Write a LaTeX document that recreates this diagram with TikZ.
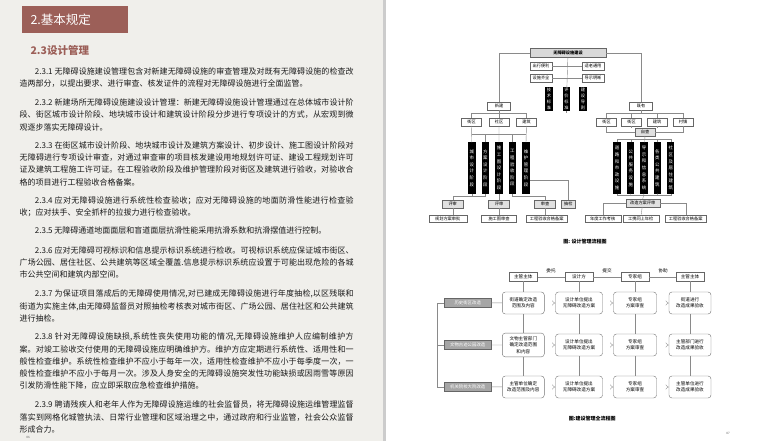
\documentclass[tikz,border=0pt]{standalone}
\usepackage{fontspec}
\setmainfont{Noto Sans CJK SC}
\XeTeXlinebreaklocale "zh"
\XeTeXlinebreakskip=0pt plus 1pt
\usetikzlibrary{arrows.meta,positioning}
\definecolor{pagebg}{HTML}{F0EFEB}
\definecolor{headred}{HTML}{9C5F58}
\definecolor{linegray}{HTML}{8A8A8A}
\newcommand{\bodyfont}{\fontsize{8}{12.2}\selectfont}
\newcommand{\tinyfont}{\fontsize{4.2}{5}\selectfont}
\tikzset{
  para/.style={anchor=north west, text width=334pt, inner sep=0pt, align=justify, font=\bodyfont, text=black!90},
  gbox/.style={draw=black!60, fill=white, line width=0.4pt, inner sep=0.5pt, minimum height=7.5pt, font=\tinyfont, align=center},
  titlebox/.style={gbox, fill=black!15, minimum width=76pt, minimum height=9pt, font=\tinyfont\bfseries},
  bbox/.style={fill=black, text=white, inner sep=0pt, minimum width=7.5pt, align=center},
  cell/.style={draw=black!55, rounded corners=3pt, fill=white, line width=0.4pt, minimum height=22pt, align=center, font=\fontsize{4.6}{6.4}\selectfont},
  rowlab/.style={draw=black!60, fill=black!35, text=white, minimum width=47pt, minimum height=9pt, inner sep=0pt, font=\fontsize{4.4}{5}\selectfont},
  link/.style={draw=linegray, line width=0.4pt},
  flow/.style={draw=black!45, double=white, double distance=1.3pt, line width=0.35pt, -{Implies}},
  caption/.style={font=\fontsize{5}{6}\selectfont\bfseries}
}
\begin{document}
\begin{tikzpicture}[x=1pt,y=-1pt]
\useasboundingbox (0,0) rectangle (760,441);
% pages
\fill[pagebg] (0,0) rectangle (383,441);
\fill[black!20] (383,0) rectangle (386,441);
% left page heading
\node[fill=headred, minimum width=106pt, minimum height=27pt, anchor=north west, inner sep=0pt] (head) at (22,6) {};
\node[anchor=west, text=white, font=\fontsize{12.5}{14}\selectfont] (headtxt) at (27,19.5) {2.基本规定};
\node[anchor=west, text=headred, font=\fontsize{10.5}{12}\selectfont\bfseries] (sub) at (27,50) {2.3设计管理};
% paragraphs
\node[para] (p1) at (19.5,67.5) {\hspace*{1.9em}2.3.1\ 无障碍设施建设管理包含对新建无障碍设施的审查管理及对既有无障碍设施的检查改造两部分，以提出要求、进行审查、核发证件的流程对无障碍设施进行全面监管。};
\node[para] (p2) at (19.5,98.8) {\hspace*{1.9em}2.3.2\ 新建场所无障碍设施建设设计管理：新建无障碍设施设计管理通过在总体城市设计阶段、街区城市设计阶段、地块城市设计和建筑设计阶段分步进行专项设计的方式，从宏观到微观逐步落实无障碍设计。};
\node[para] (p3) at (19.5,141.5) {\hspace*{1.9em}2.3.3\ 在街区城市设计阶段、地块城市设计及建筑方案设计、初步设计、施工图设计阶段对无障碍进行专项设计审查，对通过审查审的项目核发建设用地规划许可证、建设工程规划许可证及建筑工程施工许可证。在工程验收阶段及维护管理阶段对街区及建筑进行验收，对验收合格的项目进行工程验收合格备案。};
\node[para] (p4) at (19.5,196.5) {\hspace*{1.9em}2.3.4\ 应对无障碍设施进行系统性检查验收；应对无障碍设施的地面防滑性能进行检查验收；应对扶手、安全抓杆的拉拔力进行检查验收。};
\node[para] (p5) at (19.5,226.5) {\hspace*{1.9em}2.3.5\ 无障碍通道地面面层和盲道面层抗滑性能采用抗滑系数和抗滑摆值进行控制。};
\node[para] (p6) at (19.5,246.5) {\hspace*{1.9em}2.3.6\ 应对无障碍可视标识和信息提示标识系统进行检收。可视标识系统应保证城市街区、广场公园、居住社区、公共建筑等区域全覆盖.信息提示标识系统应设置于可能出现危险的各城市公共空间和建筑内部空间。};
\node[para] (p7) at (19.5,290) {\hspace*{1.9em}2.3.7\ 为保证项目落成后的无障碍使用情况,对已建成无障碍设施进行年度抽检,以区残联和街道为实施主体,由无障碍监督员对照抽检考核表对城市街区、广场公园、居住社区和公共建筑进行抽检。};
\node[para] (p8) at (19.5,333) {\hspace*{1.9em}2.3.8\ 针对无障碍设施缺损,系统性丧失使用功能的情况,无障碍设施维护人应编制维护方案。对竣工验收交付使用的无障碍设施应明确维护方。维护方应定期进行系统性、适用性和一般性检查维护。系统性检查维护不应小于每年一次，适用性检查维护不应小于每季度一次，一般性检查维护不应小于每月一次。涉及人身安全的无障碍设施突发性功能缺损或因雨雪等原因引发防滑性能下降，应立即采取应急检查维护措施。};
\node[para] (p9) at (19.5,401) {\hspace*{1.9em}2.3.9\ 聘请残疾人和老年人作为无障碍设施运维的社会监督员，将无障碍设施运维管理监督落实到网格化城管执法、日常行业管理和区域治理之中，通过政府和行业监管，社会公众监督形成合力。};
\node[font=\fontsize{3}{3}\selectfont, text=black!60] (pg86) at (28,437) {86};
\node[font=\fontsize{3}{3}\selectfont, text=black!60] (pg87) at (728,433) {87};

% ---- design management chart
\node[titlebox] (top) at (568,53) {无障碍设施建设};
\node[gbox, minimum width=22pt] (g1) at (541,66) {出行便利};
\node[gbox, minimum width=22pt] (g2) at (593,66) {适老通用};
\node[gbox, minimum width=22pt] (g3) at (541,78) {设施齐全};
\node[gbox, minimum width=22pt] (g4) at (593,78) {导示明晰};
\node[bbox, minimum height=24pt, font=\fontsize{4.2}{5.8}\selectfont] (s1) at (549,99) {技\\术\\标\\准};
\node[bbox, minimum height=24pt, font=\fontsize{4.2}{5.8}\selectfont] (s2) at (566.5,99) {评\\价\\标\\准};
\node[bbox, minimum height=24pt, font=\fontsize{4.2}{5.8}\selectfont] (s3) at (583,99) {建\\设\\导\\则};
\node[gbox, minimum width=23pt] (new) at (499,106) {新建};
\node[gbox, minimum width=23pt] (old) at (641,106) {既有};
\node[gbox, minimum width=20pt] (n1) at (471.5,122) {街区};
\node[gbox, minimum width=20pt] (n2) at (499,122) {社区};
\node[gbox, minimum width=20pt] (n3) at (526.5,122) {建筑};
\node[gbox, minimum width=20pt] (o1) at (606.5,122) {街区};
\node[gbox, minimum width=20pt] (o2) at (631.5,122) {街区};
\node[gbox, minimum width=20pt] (o3) at (657,122) {建筑};
\node[gbox, minimum width=20pt] (o4) at (683,122) {村镇};
\node[gbox, fill=black!12, minimum width=20pt] (self) at (645,132) {自查};
\foreach \n/\x/\t in {d1/471.8/城\\市\\设\\计\\阶\\段, d2/485.3/方\\案\\设\\计\\阶\\段, d3/499/施\\工\\图\\设\\计\\阶\\段, d4/512.3/工\\程\\验\\收\\阶\\段, d5/526/维\\护\\管\\理\\阶\\段}
  \node[bbox, minimum height=51pt, font=\fontsize{4.4}{6.6}\selectfont] (\n) at (\x,168) {\t};
\foreach \n/\x/\t in {r1/617/道\\路\\和\\市\\政\\设\\施, r2/630.7/公\\共\\服\\务\\设\\施, r3/644/导\\示\\和\\信\\息\\系\\统, r4/657.3/各\\类\\公\\共\\建\\筑, r5/670.7/社\\区\\及\\居\\住\\建\\筑}
  \node[bbox, minimum height=51pt, font=\fontsize{4.4}{6.6}\selectfont] (\n) at (\x,168) {\t};
\node[gbox, fill=black!12, minimum width=21pt] (e1) at (452.7,204) {评审};
\node[gbox, fill=black!12, minimum width=21pt] (e2) at (499,204) {评审};
\node[gbox, fill=black!12, minimum width=21pt] (e3) at (545,204) {审查};
\node[gbox, fill=black!12, minimum width=14pt] (e4) at (568.3,204) {抽检};
\node[gbox, minimum width=38pt] (f1) at (447.7,218.5) {规划方案审批};
\node[gbox, minimum width=35pt] (f2) at (499,218.5) {施工图审查};
\node[gbox, minimum width=41pt] (f3) at (546.7,218.5) {工程验收合格备案};
\node[gbox, fill=black!12, minimum width=34pt] (rev) at (642.7,203) {改造方案评审};
\node[gbox, minimum width=36pt] (h1) at (602.7,218.5) {年度工作考核};
\node[gbox, minimum width=36pt] (h2) at (640.7,218.5) {工携同上年检};
\node[gbox, minimum width=41pt] (h3) at (685.7,218.5) {工程验收合格备案};
\node[caption] (cap1) at (585,241.7) {图: 设计管理流程图};
% connectors
\begin{scope}[on background layer/.try]
\draw[link] (top) -- (s2);
\draw[link] (g1) -- (g2) (g3) -- (g4);
\draw[link] (top.west) -| (new.north);
\draw[link] (top.east) -| (old.north);
\draw[link] (new) -- (n2);
\draw[link] (n1.north) |- (n3.north |- 0,113) -- (n3.north);
\draw[link] (s2) -- (s2 |- 0,113);
\draw[link] (old) -- (old |- 0,113);
\draw[link] (o1.north) |- (o4.north |- 0,113) -- (o4.north);
\draw[link] (o2.north) -- (o2.north |- 0,113) (o3.north) -- (o3.north |- 0,113);
\draw[link] (o1.south) |- (self.west) (o4.south) |- (self.east);
\draw[link] (o2.south) -- (o2.south |- self.north) (o3.south) -- (o3.south |- self.north);
\draw[link] (n1.south) -- (d1.north) (n2.south) -- (d3.north) (n3.south) -- (d5.north);
\draw[link] (d1.north |- 0,134) -- (d5.north |- 0,134);
\draw[link] (d2.north) -- (d2.north |- 0,134) (d4.north) -- (d4.north |- 0,134);
\draw[link] (self) -- (r3);
\draw[link] (r1.north) |- (r5.north |- 0,139.3) -- (r5.north);
\draw[link] (r2.north) -- (r2.north |- 0,139.3) (r4.north) -- (r4.north |- 0,139.3);
\draw[link] (d2.south) |- (e1.north |- 0,196) -- (e1.north);
\draw[link] (d1.south) -- (d1.south |- 0,196);
\draw[link] (d3) -- (e2);
\draw[link] (d4.south) |- (e3.north |- 0,196) -- (e3.north);
\draw[link] (d5.east) ++(0,12) -| (e4.north);
\draw[link] (e1) -- (e1 |- f1.north) (e2) -- (f2) (e3) -- (e3 |- f3.north);
\draw[link] (r1.south) |- (r5.south |- 0,195) -- (r5.south);
\draw[link] (r2.south) -- (r2.south |- 0,195) (r3.south) -- (rev.north) (r4.south) -- (r4.south |- 0,195);
\draw[link] (rev.west) -| (h1.north);
\draw[link] (rev.east) -| (h3.north);
\draw[link] (rev) -- (h2);
\end{scope}

% ---- construction management chart
\node[gbox, minimum width=28pt, minimum height=9pt, font=\fontsize{4.6}{5}\selectfont] (c1) at (523.3,276.7) {主管主体};
\node[gbox, minimum width=28pt, minimum height=9pt, font=\fontsize{4.6}{5}\selectfont] (c2) at (579,276.7) {设计方};
\node[gbox, minimum width=28pt, minimum height=9pt, font=\fontsize{4.6}{5}\selectfont] (c3) at (635,276.7) {专家组};
\node[gbox, minimum width=28pt, minimum height=9pt, font=\fontsize{4.6}{5}\selectfont] (c4) at (690,276.7) {主管主体};
\node[font=\fontsize{4.6}{5}\selectfont] (l1) at (551,271) {委托};
\node[font=\fontsize{4.6}{5}\selectfont] (l2) at (607,271) {提交};
\node[font=\fontsize{4.6}{5}\selectfont] (l3) at (663,271) {协助};
\node[rowlab] (w1) at (467.7,302.7) {历史街区改造};
\node[rowlab] (w2) at (467.7,345) {文物古迹公园改造};
\node[rowlab] (w3) at (467.7,386.7) {机关院校大院改造};
\foreach \r/\y/\a/\d in {1/303/街道确定改造\\范围及内容/街道进行\\改造成果验收, 2/345/文物主管部门\\确定改造范围\\和内容/主管部门进行\\改造成果验收, 3/387/主管单位确定\\改造范围及内容/主管单位进行\\改造成果验收}{
  \node[cell, minimum width=42pt] (a\r) at (523.3,\y) {\a};
  \node[cell, minimum width=47pt] (b\r) at (579,\y) {设计单位提出\\无障碍改造方案};
  \node[cell, minimum width=43pt] (x\r) at (635,\y) {专家组\\方案审查};
  \node[cell, minimum width=42pt] (z\r) at (690,\y) {\d};
}
\node[caption] (cap2) at (592.3,419) {图:建设管理全流程图};
\begin{scope}[on background layer/.try]
\draw[link] (c1) -- (c2) -- (c3) -- (c4);
\draw[link] (c1) -- (a1) -- (a2) -- (a3);
\draw[link] (c2) -- (b1) -- (b2) -- (b3);
\draw[link] (c3) -- (x1) -- (x2) -- (x3);
\draw[link] (c4) -- (z1) -- (z2) -- (z3);
\draw[link] (w1.west) -| (437.3,386.7) -- (w3.west);
\draw[link] (437.3,345) -- (w2.west);
\draw[link] (w1) -- (a1) (w2) -- (a2) (w3) -- (a3);
\end{scope}
\foreach \r in {1,2,3}{
  \draw[flow] (a\r) -- (b\r);
  \draw[flow] (b\r) -- (x\r);
  \draw[flow] (x\r) -- (z\r);
}
\end{tikzpicture}
\end{document}
